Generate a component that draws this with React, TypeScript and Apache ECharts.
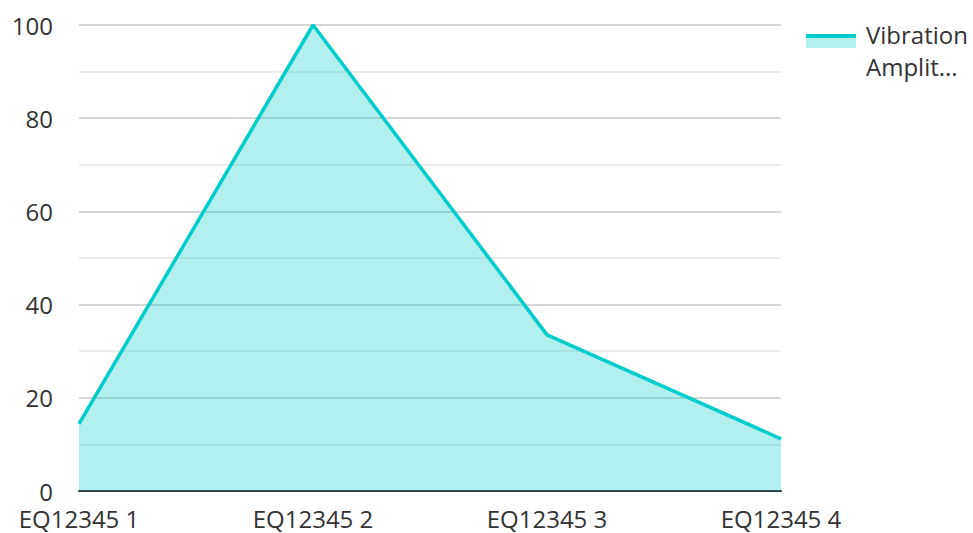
import React, { useEffect, useRef } from "react";
import * as echarts from "echarts";

const categories = ["EQ12345 1", "EQ12345 2", "EQ12345 3", "EQ12345 4"];
const amplitude = [14.4, 100, 33.5, 11.2];
const seriesName = "Vibration Amplitude";
const legendLines = ["Vibration", "Amplit..."];

const LINE = "#00cccc";
const AREA = "#b2efed";

export default function App() {
  const ref = useRef<HTMLDivElement>(null);
  useEffect(() => {
    if (!ref.current) return;
    const chart = echarts.init(ref.current, undefined, { renderer: "svg" });
    chart.setOption({
      animation: false,
      textStyle: { fontFamily: "Open Sans" },
      grid: { left: 79, right: 192, top: 25, bottom: 42 },
      legend: { show: false },
      graphic: [
        { type: "rect", shape: { x: 806, y: 37, width: 50, height: 11 }, style: { fill: AREA } },
        { type: "rect", shape: { x: 806, y: 34, width: 50, height: 4 }, style: { fill: LINE } },
        {
          type: "text",
          x: 866,
          y: 18,
          style: {
            text: legendLines.join("\n"),
            fontSize: 24,
            fontFamily: "Open Sans",
            fill: "#333",
            lineHeight: 32,
            verticalAlign: "top",
          },
        },
      ],
      xAxis: {
        type: "category",
        data: categories,
        boundaryGap: false,
        axisLine: { lineStyle: { color: "#333", width: 2 } },
        axisTick: { show: false },
        axisLabel: { fontSize: 24, color: "#333", margin: 15 },
      },
      yAxis: {
        type: "value",
        min: 0,
        max: 100,
        interval: 20,
        axisLine: { show: false },
        axisTick: { show: false },
        axisLabel: { fontSize: 24, color: "#333", margin: 26 },
        splitLine: { lineStyle: { color: "#c8c8c8", width: 1.5 } },
        minorTick: { show: false, splitNumber: 2 },
        minorSplitLine: { show: true, lineStyle: { color: "#e6e6e6", width: 1.5 } },
      },
      series: [
        {
          name: seriesName,
          type: "line",
          data: amplitude,
          symbol: "none",
          lineStyle: { color: LINE, width: 3.5 },
          itemStyle: { color: LINE },
          areaStyle: { color: "rgba(0,204,204,0.3)", opacity: 1 },
        },
      ],
    });
    return () => chart.dispose();
  }, []);
  return (
    <div
      ref={ref}
      style={{ position: "absolute", left: 0, top: 0, width: 973, height: 533 }}
    />
  );
}
